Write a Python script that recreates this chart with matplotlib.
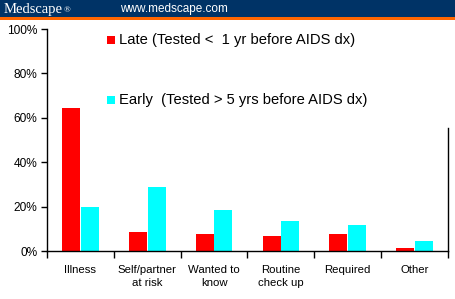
import matplotlib
matplotlib.use("Agg")
import matplotlib.pyplot as plt
import numpy as np
from matplotlib.patches import Rectangle
from matplotlib.lines import Line2D

categories = ["Illness", "Self/partner\nat risk", "Wanted to\nknow",
              "Routine\ncheck up", "Required", "Other"]
late_values = [64.5, 8.5, 7.7, 6.8, 7.7, 1.4]
early_values = [19.8, 28.8, 18.5, 13.5, 11.7, 4.5]
y_ticks = [0, 20, 40, 60, 80, 100]
late_label = "Late (Tested <  1 yr before AIDS dx)"
early_label = "Early  (Tested > 5 yrs before AIDS dx)"

plt.rcParams["font.family"] = ["Liberation Sans", "DejaVu Sans"]

fig = plt.figure(figsize=(4.55, 2.99), dpi=100)
fig.patch.set_facecolor("white")

# header band
fig.patches.append(Rectangle((0, 1 - 17 / 299), 1, 17 / 299, transform=fig.transFigure,
                             facecolor="#003366", edgecolor="none"))
fig.patches.append(Rectangle((0, 1 - 20 / 299), 1, 3 / 299, transform=fig.transFigure,
                             facecolor="#ff6600", edgecolor="none"))
fig.text(4 / 455, 1 - 9 / 299, "Medscape", color="white", fontsize=10.5,
         family="Liberation Serif", va="center", ha="left")
fig.text(64 / 455, 1 - 10 / 299, "\u00ae", color="white", fontsize=6.5,
         family="Liberation Serif", va="center", ha="left")
fig.text(120 / 455, 1 - 9 / 299, "www.medscape.com", color="white", fontsize=8.5,
         va="center", ha="left")

ax = fig.add_axes([47 / 455, 48 / 299, 401 / 455, 222 / 299])
x = np.arange(len(categories))
w = 0.27
ax.bar(x - w / 2 - 0.005, late_values, w, color="#ff0000")
ax.bar(x + w / 2 + 0.005, early_values, w, color="#00ffff")

ax.set_xlim(-0.5, len(categories) - 0.5)
ax.set_ylim(0, 100)
ax.set_yticks(y_ticks)
ax.set_yticklabels([f"{v}%" for v in y_ticks], fontsize=8.6)
ax.set_xticks(np.arange(len(categories) + 1) - 0.5)
ax.set_xticklabels([])
ax.set_xticks(x, minor=True)
ax.set_xticklabels(categories, minor=True, fontsize=8.2, linespacing=1.4)
ax.tick_params(axis="x", which="minor", length=0, pad=10)
ax.tick_params(axis="x", which="major", length=5, direction="out", width=1)
ax.tick_params(axis="y", length=4, direction="out", width=1, pad=3)
for side in ["top", "right"]:
    ax.spines[side].set_visible(False)
for side in ["left", "bottom"]:
    ax.spines[side].set_linewidth(1)
ax.add_line(Line2D([1, 1], [0, 0.555], transform=ax.transAxes, color="black",
                   lw=1, clip_on=False))

# legend
for ypix, col, lab in [(40, "#ff0000", late_label), (100, "#00ffff", early_label)]:
    fig.patches.append(Rectangle((107 / 455, 1 - (ypix + 4) / 299), 8 / 455, 8 / 299,
                                 transform=fig.transFigure, facecolor=col, edgecolor="none"))
    fig.text(119 / 455, 1 - ypix / 299, lab, fontsize=10.6, va="center", ha="left")

fig.savefig("out.png", dpi=100)
